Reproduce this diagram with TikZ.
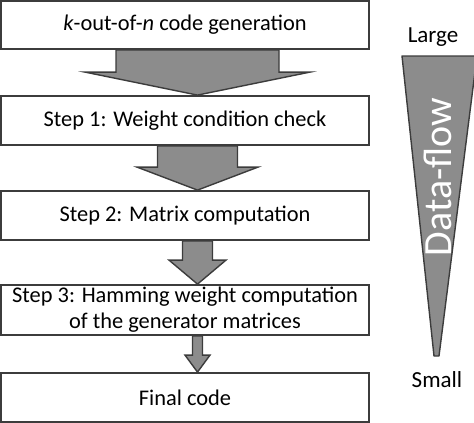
\documentclass[tikz,border=0pt]{standalone}
\usepackage{fontspec}
\setmainfont{Carlito}
\usetikzlibrary{calc}
\definecolor{edge}{HTML}{3C3C3C}
\definecolor{arrowfill}{HTML}{8C8C8C}
\tikzset{
  stepbox/.style={draw=edge, line width=1.8pt, fill=white, minimum width=368pt, inner sep=0pt, align=center, font=\fontsize{22.4}{26}\selectfont},
  barrowst/.style={draw=edge, line width=1.4pt, fill=arrowfill, line join=miter},
  sidelabel/.style={font=\fontsize{23}{26}\selectfont, inner sep=0pt}
}
\newcommand\blockarrow[5]{%
  \draw[barrowst] ($(#1.south)+({12.5-#3},0)$) -- ($(#2.north)+({12.5-#3},-#5)$) -- ($(#2.north)+({12.5-#4},-#5)$) -- ($(#2.north)+(12.5,0)$) -- ($(#2.north)+({12.5+#4},-#5)$) -- ($(#2.north)+({12.5+#3},-#5)$) -- ($(#1.south)+({12.5+#3},0)$) -- cycle;}
\begin{document}
\begin{tikzpicture}[x=1pt,y=-1pt]
\useasboundingbox (0,0) rectangle (474,423);
\node[stepbox, minimum height=48pt] (b1) at (185,25) {\textit{k}-out-of-\textit{n} code generation};
\node[stepbox, minimum height=49pt] (b2) at (185,120.5) {Step 1: Weight condition check};
\node[stepbox, minimum height=49pt] (b3) at (185,215.5) {Step 2: Matrix computation};
\node[stepbox, minimum height=50pt] (b4) at (185,310) {Step 3: Hamming weight computation\\of the generator matrices};
\node[stepbox, minimum height=49pt] (b5) at (185,397.5) {Final code};
\blockarrow{b1}{b2}{81.5}{112.5}{23}
\blockarrow{b2}{b3}{40}{60.5}{23}
\blockarrow{b3}{b4}{15}{28.5}{24}
\blockarrow{b4}{b5}{5}{12.5}{17}
\coordinate (tl) at (402,56);
\coordinate (tr) at (477,56);
\coordinate (tip) at (436.5,356);
\draw[draw=edge, line width=1.4pt, fill=arrowfill, line join=round] (tl) -- (tr) -- ($(tip)+(2.5,0)$) -- ($(tip)+(-2.5,0)$) -- cycle;
\node[sidelabel] (large) at (433,37) {Large};
\node[sidelabel] (small) at (437,380) {Small};
\node[rotate=90, text=white, font=\fontsize{40}{40}\selectfont, inner sep=0pt] (df) at (438,177) {Data-flow};
\end{tikzpicture}
\end{document}
